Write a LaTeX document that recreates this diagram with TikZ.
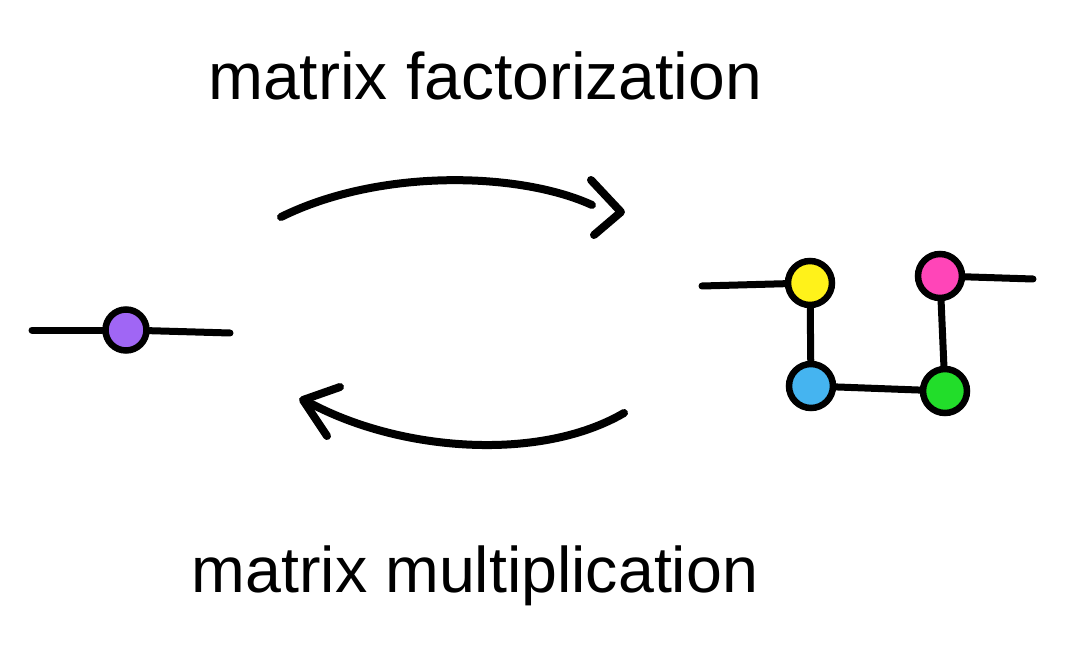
\documentclass[tikz,border=0pt]{standalone}
\usepackage{fontspec}
\setmainfont{Liberation Sans}
\definecolor{cpurple}{HTML}{A066F5}
\definecolor{cyellow}{HTML}{FFF21A}
\definecolor{cmagenta}{HTML}{FF45B8}
\definecolor{cblue}{HTML}{45B4F0}
\definecolor{cgreen}{HTML}{22DD2A}
\tikzset{
  dot/.style={circle, draw=black, line width=6.5pt, minimum size=41pt, inner sep=0pt},
  bigdot/.style={dot, minimum size=44pt},
  wire/.style={line width=7pt, line cap=round},
  stroke/.style={line width=8pt, line cap=round, line join=round},
  label/.style={anchor=base, inner sep=0pt}
}
\begin{document}
\begin{tikzpicture}[x=1pt,y=-1pt]
\useasboundingbox (0,0) rectangle (1080,666);
\fill[white] (0,0) rectangle (1080,666);

% titles
\node[label, font=\fontsize{66}{66}\selectfont] (top) at (485,100) {matrix factorization};
\node[label, font=\fontsize{64.5}{64.5}\selectfont] (bot) at (475,592) {matrix multiplication};

% left tensor
\coordinate (l1) at (32,330);
\coordinate (l2) at (230,333);
\node[dot, fill=cpurple] (p) at (126,330) {};
\draw[wire] (l1) -- (p);
\draw[wire] (p) -- (l2);

% right tensor network
\coordinate (r1) at (702,286);
\coordinate (r2) at (1033,279);
\node[bigdot, fill=cyellow] (y) at (810,283) {};
\node[bigdot, fill=cmagenta] (m) at (940,276) {};
\node[bigdot, fill=cblue] (b) at (811,386) {};
\node[bigdot, fill=cgreen] (g) at (945,391) {};
\draw[wire] (r1) -- (y);
\draw[wire] (m) -- (r2);
\draw[wire] (y) -- (b);
\draw[wire] (m) -- (g);
\draw[wire] (b) -- (g);

% arrows
\coordinate (a1) at (281,217);
\coordinate (a2) at (592,205);
\coordinate (h1) at (591,180);
\coordinate (h2) at (621,212);
\coordinate (h3) at (594,235);
\draw[stroke] (a1) .. controls (380,168) and (520,172) .. (a2);
\draw[stroke] (h1) -- (h2) -- (h3);

\coordinate (b1) at (624,413);
\coordinate (b2) at (308,402);
\coordinate (k1) at (340,387);
\coordinate (k2) at (303,400);
\coordinate (k3) at (327,436);
\draw[stroke] (b1) .. controls (540,462) and (400,452) .. (b2);
\draw[stroke] (k1) -- (k2) -- (k3);
\end{tikzpicture}
\end{document}
